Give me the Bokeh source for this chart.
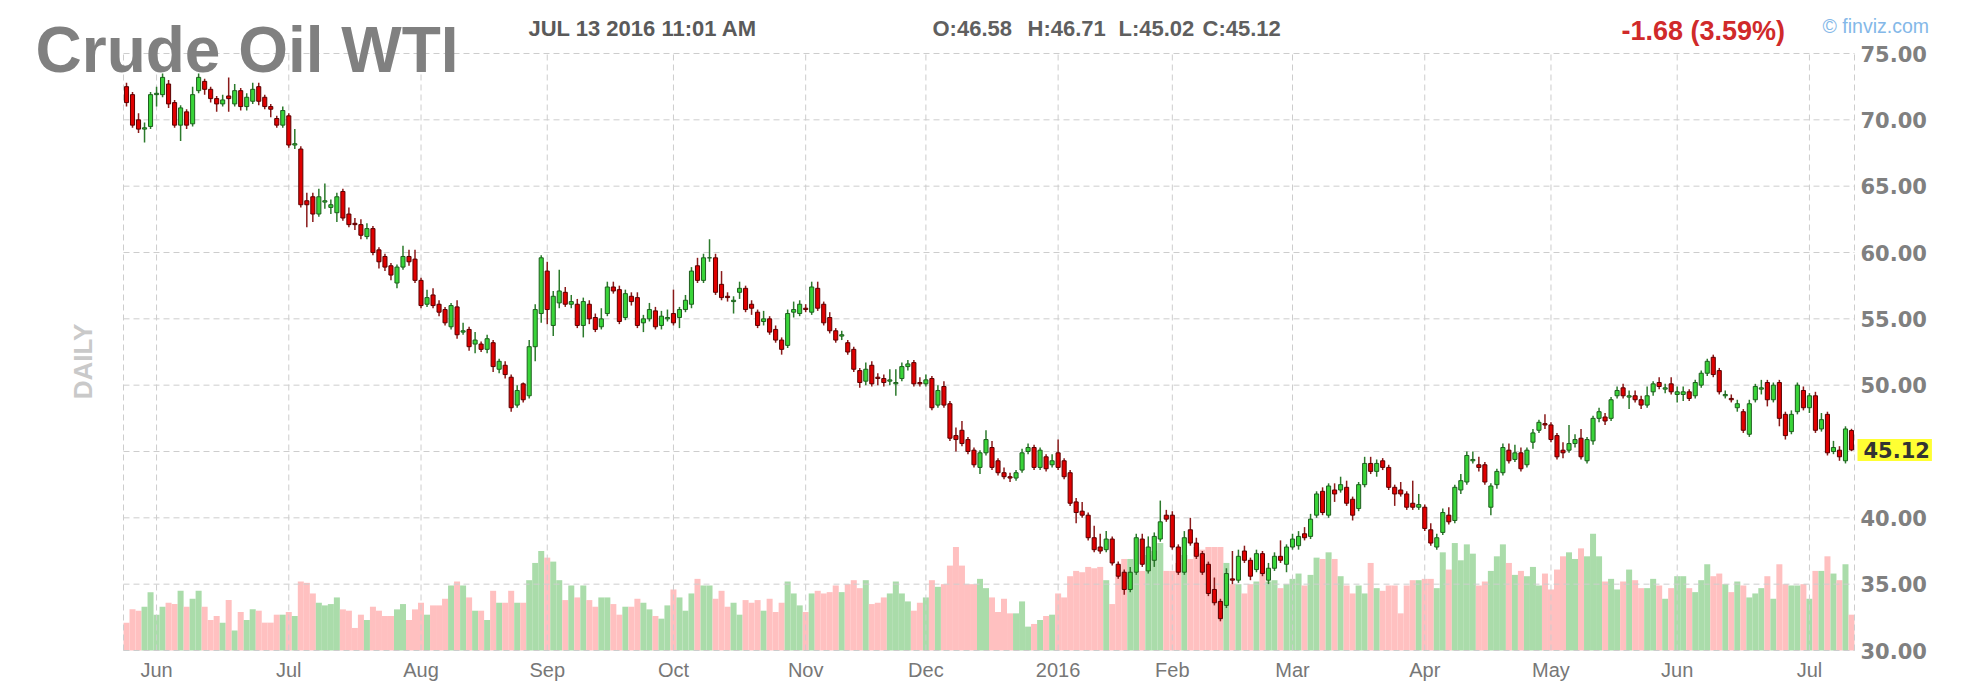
import math
import pandas as pd
from bokeh.plotting import figure
from bokeh.models import ColumnDataSource, Range1d, FixedTicker, NumeralTickFormatter, Label
from bokeh.embed import file_html
from bokeh.resources import INLINE

# ---------------- data ----------------
opens = [
    72.5, 71.9, 70.0, 69.3, 69.5, 71.9, 71.9, 72.7, 71.3, 69.6,
    70.6, 69.7, 72.2, 72.9, 72.3, 71.6, 71.2, 71.8, 71.2, 72.2,
    71.0, 71.4, 72.5, 71.7, 71.0, 70.1, 69.6, 70.3, 68.1, 67.8,
    63.9, 64.2, 62.9, 63.8, 63.4, 63.0, 64.6, 62.9, 62.2, 62.1,
    61.2, 61.8, 60.2, 59.7, 59.0, 57.7, 58.9, 59.7, 59.5, 57.9,
    56.1, 56.8, 56.1, 55.7, 54.4, 55.9, 54.0, 54.2, 53.1, 53.1,
    52.7, 53.2, 51.2, 51.5, 50.6, 48.5, 50.1, 49.2, 52.9, 55.4,
    58.6, 54.5, 56.2, 57.0, 56.1, 56.1, 54.5, 56.1, 55.1, 54.4,
    55.4, 57.4, 57.2, 55.1, 56.7, 56.6, 54.7, 55.0, 55.6, 54.5,
    55.0, 55.4, 55.1, 55.7, 56.1, 59.0, 57.9, 59.6, 59.6, 57.6,
    56.7, 56.3, 57.0, 57.3, 56.1, 55.5, 54.8, 55.0, 54.2, 53.4,
    53.0, 55.5, 55.4, 55.8, 55.5, 57.3, 56.1, 55.1, 54.1, 53.7,
    53.2, 52.7, 51.1, 50.3, 51.5, 50.6, 50.5, 50.3, 50.1, 50.5,
    51.4, 51.7, 50.2, 50.1, 50.5, 48.5, 49.9, 48.6, 46.2, 46.6,
    45.9, 45.1, 43.8, 44.9, 45.3, 44.3, 43.4, 43.1, 43.0, 43.6,
    45.0, 45.3, 43.8, 44.6, 44.0, 44.9, 44.3, 43.4, 41.2, 40.5,
    40.2, 38.5, 37.8, 37.6, 38.4, 36.5, 35.9, 34.6, 35.9, 38.4,
    36.0, 36.8, 38.4, 40.2, 40.2, 37.8, 35.9, 39.1, 38.1, 37.3,
    36.5, 34.6, 33.7, 33.4, 35.4, 35.3, 37.5, 36.8, 36.1, 37.3,
    35.3, 36.2, 37.1, 36.5, 37.8, 37.9, 38.8, 38.6, 40.2, 42.0,
    40.2, 42.1, 42.1, 42.3, 41.4, 40.7, 42.5, 44.1, 43.5, 44.3,
    43.8, 42.3, 42.1, 41.8, 41.1, 40.8, 40.8, 39.1, 37.8, 38.9,
    40.2, 39.8, 42.1, 42.7, 44.3, 44.0, 44.0, 40.8, 42.5, 43.4,
    45.1, 44.4, 44.9, 44.0, 45.7, 46.6, 47.1, 47.0, 46.2, 45.1,
    45.1, 45.6, 46.0, 44.3, 45.8, 47.5, 47.6, 47.5, 49.2, 49.8,
    49.1, 49.2, 48.9, 48.5, 49.5, 50.2, 49.7, 50.1, 49.3, 49.3,
    49.5, 49.2, 50.0, 50.9, 52.1, 51.1, 49.2, 49.0, 48.3, 48.0,
    46.3, 48.9, 49.7, 50.2, 48.9, 50.2, 47.8, 46.5, 48.0, 49.6,
    48.3, 49.2, 46.7, 47.8, 45.0, 45.1, 44.3, 46.58,
]
highs = [
    72.8, 72.1, 70.5, 69.8, 72.1, 72.5, 73.5, 73.0, 71.5, 71.1,
    70.8, 72.5, 73.5, 73.1, 72.5, 71.8, 71.9, 73.2, 72.7, 72.4,
    72.0, 72.8, 72.8, 71.9, 71.2, 70.3, 71.0, 70.5, 69.3, 68.0,
    64.5, 64.5, 64.8, 65.2, 64.0, 64.5, 64.8, 63.4, 62.6, 62.5,
    62.2, 62.0, 60.4, 59.9, 59.2, 59.1, 60.5, 60.2, 60.2, 58.1,
    57.2, 57.3, 56.4, 55.9, 56.2, 56.4, 54.7, 54.4, 54.0, 53.3,
    53.8, 53.4, 52.0, 51.8, 50.8, 50.0, 50.2, 53.4, 56.1, 59.8,
    59.3, 57.1, 58.7, 57.4, 56.8, 56.5, 56.6, 56.4, 55.4, 55.8,
    57.8, 57.8, 57.5, 57.2, 57.0, 57.0, 55.3, 56.2, 55.9, 55.6,
    55.7, 57.2, 55.9, 56.8, 58.9, 59.6, 59.9, 61.0, 59.9, 58.6,
    57.0, 56.7, 57.8, 57.5, 56.4, 55.7, 55.6, 55.2, 54.5, 53.6,
    55.7, 56.3, 56.4, 56.1, 57.8, 57.8, 56.3, 55.5, 54.3, 54.1,
    53.4, 52.9, 51.3, 51.7, 51.8, 50.9, 50.8, 51.2, 51.2, 51.7,
    51.9, 51.9, 50.6, 50.8, 50.7, 50.0, 50.3, 48.8, 46.8, 47.3,
    46.1, 45.3, 45.1, 46.6, 45.8, 44.5, 43.8, 43.4, 43.6, 45.2,
    45.6, 45.5, 45.3, 44.8, 44.8, 45.9, 44.5, 43.6, 41.5, 41.2,
    40.4, 39.4, 38.8, 39.0, 38.6, 36.7, 36.1, 36.3, 38.8, 38.8,
    38.6, 38.9, 41.3, 40.6, 40.5, 38.0, 39.0, 40.0, 38.5, 37.5,
    36.7, 35.5, 33.9, 36.2, 37.5, 37.6, 37.9, 37.0, 37.6, 37.5,
    36.6, 37.4, 38.3, 38.0, 38.8, 39.0, 39.3, 40.3, 42.0, 42.3,
    42.6, 42.6, 43.1, 42.8, 41.6, 42.7, 44.6, 44.6, 44.4, 44.5,
    44.0, 42.5, 42.7, 42.0, 42.8, 41.8, 41.0, 39.6, 38.8, 40.7,
    40.8, 42.5, 43.3, 45.0, 45.0, 44.6, 44.2, 42.6, 43.7, 45.6,
    45.6, 45.5, 45.3, 45.3, 46.7, 47.4, 47.8, 47.2, 46.4, 45.7,
    47.0, 46.3, 46.7, 46.1, 47.7, 48.3, 47.9, 49.1, 49.9, 50.1,
    49.6, 49.6, 49.2, 49.9, 50.3, 50.6, 50.1, 50.6, 49.9, 49.9,
    49.7, 50.4, 51.1, 52.0, 52.3, 51.3, 49.6, 49.3, 48.9, 48.2,
    48.9, 50.1, 50.4, 50.4, 50.2, 50.4, 48.0, 48.1, 50.2, 49.9,
    49.4, 49.5, 47.9, 48.0, 45.8, 45.4, 46.9, 46.71,
]
lows = [
    71.0, 69.4, 69.0, 68.3, 69.3, 71.0, 71.7, 70.9, 69.4, 68.4,
    69.3, 69.5, 72.0, 71.9, 71.3, 70.6, 71.0, 70.6, 71.0, 70.7,
    70.7, 71.2, 71.1, 70.8, 70.2, 69.4, 69.4, 67.9, 67.8, 63.4,
    61.9, 62.3, 62.7, 63.3, 62.9, 62.3, 62.4, 61.9, 61.7, 61.0,
    61.0, 59.8, 58.8, 58.6, 57.9, 57.3, 58.7, 59.0, 57.7, 55.8,
    55.9, 55.8, 55.2, 54.5, 54.2, 53.5, 53.8, 52.6, 52.4, 52.5,
    52.4, 51.0, 50.9, 50.5, 48.0, 48.3, 48.7, 49.0, 51.8, 54.7,
    54.6, 53.7, 55.8, 55.9, 55.8, 54.3, 53.6, 54.6, 54.0, 54.2,
    55.2, 56.9, 54.6, 54.9, 56.0, 54.3, 54.0, 54.8, 54.2, 54.2,
    54.8, 54.5, 54.3, 55.5, 55.8, 57.7, 57.7, 59.3, 56.8, 56.4,
    56.3, 55.4, 56.5, 55.5, 55.3, 54.3, 54.5, 53.8, 53.2, 52.3,
    52.8, 55.1, 55.2, 55.5, 55.3, 55.6, 54.5, 53.9, 53.2, 53.4,
    52.3, 51.0, 49.8, 50.0, 49.9, 50.0, 49.9, 50.0, 49.2, 50.3,
    51.1, 49.9, 49.9, 49.9, 48.1, 48.3, 48.3, 45.8, 45.0, 45.4,
    44.8, 43.8, 43.3, 44.7, 43.6, 43.2, 42.9, 42.7, 42.8, 43.4,
    44.8, 43.6, 43.6, 43.5, 43.8, 43.6, 42.9, 40.9, 39.6, 40.0,
    38.3, 37.4, 37.3, 37.4, 36.4, 35.4, 34.2, 34.4, 35.7, 36.3,
    35.8, 36.3, 38.2, 39.7, 37.6, 35.7, 35.7, 37.9, 36.9, 35.7,
    34.1, 33.4, 32.2, 33.2, 35.0, 35.1, 36.6, 35.3, 35.9, 35.6,
    35.0, 36.0, 36.6, 35.9, 37.6, 37.6, 38.3, 38.4, 40.0, 40.2,
    40.0, 41.2, 41.9, 40.9, 39.8, 40.5, 42.3, 43.3, 43.1, 43.6,
    42.1, 40.9, 41.6, 40.6, 40.6, 40.6, 39.0, 37.9, 37.6, 38.7,
    39.5, 39.6, 41.8, 42.5, 44.1, 43.5, 42.5, 40.2, 42.2, 43.2,
    44.1, 44.2, 43.5, 43.8, 45.2, 46.4, 46.7, 45.7, 44.4, 44.5,
    44.9, 45.3, 44.4, 44.1, 45.5, 47.2, 47.0, 47.3, 49.0, 49.0,
    48.2, 48.7, 48.2, 48.3, 49.2, 49.7, 49.4, 49.3, 48.7, 48.8,
    48.8, 49.0, 49.8, 50.7, 50.6, 49.3, 49.0, 48.7, 48.0, 46.4,
    46.1, 48.7, 49.3, 48.4, 48.7, 46.9, 45.9, 46.3, 47.8, 48.1,
    47.9, 46.4, 46.5, 44.7, 44.8, 44.3, 44.1, 45.02,
]
closes = [
    71.3, 69.6, 69.3, 69.4, 71.9, 72.0, 73.2, 71.2, 69.6, 70.9,
    69.6, 71.9, 73.2, 72.3, 71.6, 71.2, 71.5, 71.6, 72.2, 71.0,
    71.7, 72.3, 71.4, 71.0, 70.8, 69.6, 70.7, 68.1, 68.2, 63.6,
    63.6, 62.9, 64.2, 63.9, 63.6, 64.2, 62.6, 62.1, 62.1, 61.3,
    61.8, 60.0, 59.3, 58.9, 58.3, 58.9, 59.7, 59.3, 57.9, 56.0,
    56.6, 56.0, 55.5, 54.7, 56.0, 53.8, 54.1, 52.9, 53.4, 52.7,
    53.5, 51.4, 51.8, 50.8, 48.3, 49.6, 48.9, 52.9, 55.7, 59.6,
    55.7, 56.7, 57.1, 56.1, 56.3, 54.5, 56.3, 55.0, 54.2, 55.0,
    57.4, 57.1, 54.8, 56.9, 56.3, 54.5, 55.0, 55.7, 54.4, 55.2,
    55.1, 54.7, 55.7, 56.4, 58.6, 57.9, 59.6, 59.6, 57.0, 56.6,
    56.6, 56.4, 57.3, 55.7, 55.8, 54.5, 55.0, 54.0, 53.4, 52.7,
    55.4, 55.7, 56.1, 55.7, 57.4, 55.8, 54.7, 54.1, 53.4, 53.8,
    52.5, 51.2, 50.2, 51.2, 50.1, 50.5, 50.2, 50.4, 50.2, 51.4,
    51.6, 50.1, 50.1, 50.4, 48.3, 49.6, 48.5, 46.0, 45.9, 45.6,
    45.0, 44.0, 44.9, 45.9, 43.8, 43.4, 43.1, 43.0, 43.4, 44.9,
    45.3, 43.8, 45.1, 43.7, 44.3, 43.8, 43.1, 41.1, 40.4, 40.2,
    38.5, 37.6, 37.5, 38.4, 36.6, 35.6, 34.6, 35.9, 38.5, 36.5,
    37.8, 38.6, 39.7, 39.9, 37.8, 35.9, 38.5, 38.1, 37.1, 35.9,
    34.3, 33.6, 32.4, 35.8, 35.3, 37.1, 36.8, 35.6, 37.3, 35.8,
    36.2, 37.1, 36.8, 37.8, 38.4, 38.6, 38.5, 39.9, 41.8, 40.4,
    42.4, 41.8, 42.5, 41.1, 40.2, 42.5, 44.1, 43.5, 44.1, 43.8,
    42.3, 41.8, 41.8, 40.8, 40.8, 41.0, 39.2, 38.1, 38.5, 40.4,
    39.7, 42.3, 42.8, 44.7, 44.4, 43.8, 42.7, 42.4, 43.5, 45.3,
    44.3, 44.9, 43.7, 45.1, 46.4, 47.2, 47.0, 45.9, 44.6, 44.9,
    45.6, 45.9, 44.6, 45.9, 47.5, 48.0, 47.3, 48.9, 49.6, 49.2,
    49.2, 48.9, 48.5, 49.2, 50.1, 49.9, 49.8, 49.5, 49.5, 49.5,
    49.0, 50.2, 50.9, 51.8, 50.8, 49.5, 49.3, 48.9, 48.6, 46.6,
    48.6, 49.9, 49.8, 48.9, 50.0, 47.5, 46.2, 47.8, 50.0, 48.3,
    49.2, 46.6, 47.4, 44.9, 45.3, 44.6, 46.7, 45.12,
]
# daily volume, thousands of contracts
volumes = [
    210, 310, 300, 330, 440, 270, 330, 360, 350, 450,
    330, 390, 450, 330, 230, 260, 210, 380, 150, 290,
    230, 310, 300, 210, 210, 270, 270, 290, 260, 520,
    510, 430, 360, 340, 350, 400, 310, 300, 170, 270,
    230, 330, 300, 260, 260, 310, 350, 230, 310, 360,
    270, 340, 340, 390, 490, 520, 490, 400, 300, 300,
    230, 450, 360, 360, 450, 360, 360, 530, 660, 750,
    700, 670, 530, 380, 490, 400, 490, 380, 330, 400,
    400, 350, 270, 330, 330, 390, 360, 310, 260, 240,
    340, 460, 400, 300, 430, 540, 490, 490, 390, 450,
    330, 360, 270, 380, 360, 380, 300, 390, 290, 360,
    520, 430, 340, 290, 430, 450, 430, 440, 490, 440,
    500, 530, 470, 530, 350, 360, 400, 430, 520, 430,
    370, 300, 360, 400, 530, 480, 500, 640, 780, 640,
    500, 500, 540, 470, 400, 290, 390, 280, 280, 370,
    180, 200, 230, 260, 270, 430, 400, 560, 600, 590,
    630, 620, 630, 530, 350, 560, 690, 690, 590, 600,
    720, 750, 810, 600, 600, 660, 720, 690, 780, 760,
    780, 780, 780, 660, 500, 500, 430, 500, 520, 600,
    520, 530, 470, 500, 540, 580, 490, 570, 700, 690,
    740, 690, 560, 490, 430, 490, 430, 660, 470, 450,
    490, 490, 280, 490, 530, 530, 540, 540, 470, 740,
    610, 810, 680, 800, 730, 490, 520, 600, 710, 800,
    660, 570, 600, 560, 630, 490, 580, 460, 610, 710,
    740, 690, 770, 710, 880, 710, 520, 540, 460, 520,
    610, 530, 470, 470, 540, 490, 390, 470, 560, 560,
    470, 440, 530, 650, 560, 580, 500, 440, 520, 490,
    400, 430, 470, 560, 390, 650, 500, 490, 490, 500,
    390, 600, 600, 710, 580, 530, 650, 270,
]
y_ticks = [30, 35, 40, 45, 50, 55, 60, 65, 70, 75]
last_price = 45.12
holidays = ["2015-05-25", "2015-07-03", "2015-09-07", "2015-11-26", "2015-12-25",
            "2016-01-01", "2016-01-18", "2016-02-15", "2016-03-25", "2016-05-30",
            "2016-07-04"]
title_text = "Crude Oil WTI"
stamp_text = "JUL 13 2016 11:01 AM"
ohlc_texts = ["O:46.58", "H:46.71", "L:45.02", "C:45.12"]
change_text = "-1.68 (3.59%)"

# ---------------- derived ----------------
days = [d for d in pd.bdate_range("2015-05-22", "2016-07-13")
        if d.strftime("%Y-%m-%d") not in holidays][:len(closes)]
n = len(closes)
idx = list(range(n))
month_ticks, month_labels = [], {}
for i in range(1, len(days)):
    if days[i].month != days[i - 1].month:
        month_ticks.append(i)
        month_labels[i] = str(days[i].year) if days[i].month == 1 else days[i].strftime("%b")

up = [c >= o for o, c in zip(opens, closes)]
src = ColumnDataSource(dict(
    x=idx, h=highs, l=lows,
    top=[max(o, c) for o, c in zip(opens, closes)],
    bottom=[min(o, c) for o, c in zip(opens, closes)],
    vol=volumes,
    fill=["#39d439" if u else "#e00000" for u in up],
    edge=["#1e5e1e" if u else "#5a0000" for u in up],
    wick=["#2c7a2c" if u else "#8a1a1a" for u in up],
    vcol=["#aadcaa" if u else "#ffc0c0" for u in up],
))

# ---------------- layout: the frame fills the canvas, the price area sits inside it
W, H = 1976, 688
PL, PR, PT, PB = 123, 1854, 53, 650          # price area edges on the page
ymin, ymax = min(y_ticks), max(y_ticks)
sx = (PR - PL) / n                            # px per candle
sy = (PB - PT) / (ymax - ymin)                # px per dollar
x0 = -0.5 - PL / sx
x1 = x0 + W / sx
y_top = ymax + PT / sy
y_bot = ymin - (H - PB) / sy
vol_top = 4500                                # volume scale: this value at price-area top
vpp = vol_top / (PB - PT)
v0 = -(H - PB) * vpp

p = figure(width=W, height=H, min_border=0, min_border_left=0, min_border_right=0,
           min_border_top=0, min_border_bottom=0,
           x_range=Range1d(x0, x1), y_range=Range1d(y_bot, y_top),
           y_axis_location="right", output_backend="svg", toolbar_location=None,
           background_fill_color="white", border_fill_color="white")
p.outline_line_color = None
p.xgrid.visible = False
p.ygrid.visible = False
p.extra_y_ranges = {"vol": Range1d(v0, v0 + H * vpp)}

# volume bars (behind the grid)
p.vbar(x="x", width=1.0, top="vol", bottom=0, y_range_name="vol", source=src,
       fill_color="vcol", line_color=None, level="image")

# dashed grid limited to the price area (outer vertical lines are its border)
grid_kw = dict(line_color="#cdcdcd", line_dash="6 4", line_width=1, level="underlay")
p.segment(x0=[-0.5] * len(y_ticks), y0=y_ticks, x1=[n - 0.5] * len(y_ticks), y1=y_ticks,
          **grid_kw)
vx = [-0.5] + month_ticks + [n - 0.5]
p.segment(x0=vx, y0=[ymin] * len(vx), x1=vx, y1=[ymax] * len(vx), **grid_kw)

# candles
p.segment(x0="x", y0="h", x1="x", y1="l", line_color="wick", line_width=1.5, source=src)
p.vbar(x="x", width=0.68, top="top", bottom="bottom", fill_color="fill",
       line_color="edge", line_width=1, source=src)

# y axis (right edge of the price area)
yax = p.yaxis[0]
yax.fixed_location = n - 0.5
yax.ticker = FixedTicker(ticks=[t for t in y_ticks if abs(t - last_price) > 1])
yax.formatter = NumeralTickFormatter(format="0.00")
yax.axis_line_color = None
yax.major_tick_line_color = None
yax.minor_tick_line_color = None
yax.major_tick_out = 0
yax.major_label_standoff = 6
yax.major_label_text_font = "DejaVu Sans"
yax.major_label_text_font_style = "bold"
yax.major_label_text_font_size = "21px"
yax.major_label_text_color = "#808080"

# x axis (bottom edge of the price area)
xax = p.xaxis[0]
xax.fixed_location = ymin
xax.ticker = FixedTicker(ticks=month_ticks)
xax.major_label_overrides = month_labels
xax.axis_line_color = None
xax.major_tick_line_color = None
xax.minor_tick_line_color = None
xax.major_tick_out = 0
xax.major_label_standoff = 8
xax.major_label_text_font = "Liberation Sans"
xax.major_label_text_font_size = "20px"
xax.major_label_text_color = "#777777"

# helpers to place texts at page positions
def dx(page_x):
    return x0 + page_x / sx
def dy(page_y):
    return y_top - page_y / sy

def lab(text, px, py, size, color, font="Liberation Sans", style="normal",
        align="left", baseline="middle", angle=0.0, **kw):
    p.add_layout(Label(x=dx(px), y=dy(py), text=text, text_font=font,
                       text_font_size=size, text_font_style=style, text_color=color,
                       text_align=align, text_baseline=baseline, angle=angle, **kw))

lab(title_text, 35, 49, "64px", "#808080", style="bold")
lab("DAILY", 82, 361, "26px", "#c9c9c9", style="bold", align="center", angle=math.pi / 2)
lab(stamp_text, 528, 28, "22px", "#5a5a5a", style="bold")
for t, px in zip(ohlc_texts, [932, 1027, 1118, 1202]):
    lab(t, px, 28, "22px", "#5f5f5f", style="bold")
lab(change_text, 1621, 30, "27px", "#d02a2a", style="bold")
lab("\u00a9 finviz.com", 1822, 25, "19.5px", "#84b8e8")
p.add_layout(Label(x=n - 0.5, y=last_price, x_offset=3, text="%.2f" % last_price,
                   text_font="DejaVu Sans", text_font_size="21px", text_font_style="bold",
                   text_color="#333333", text_align="left", text_baseline="middle",
                   background_fill_color="#ffff33",
                   padding=dict(left=6, right=2, top=3, bottom=3)))

open("out.html", "w").write(file_html(p, INLINE))
